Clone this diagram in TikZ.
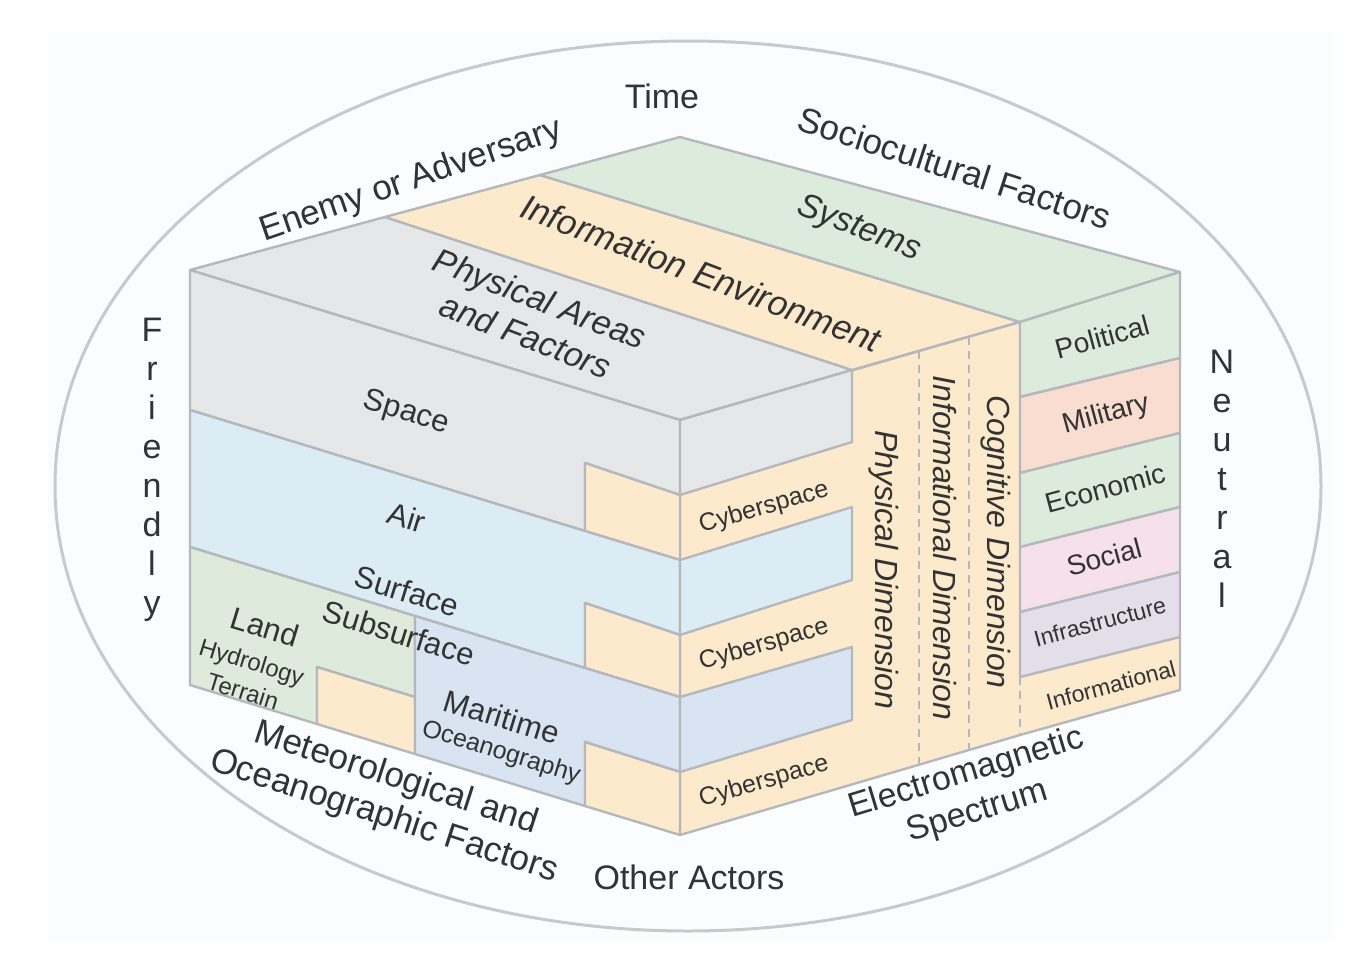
\documentclass[tikz,border=0pt]{standalone}
\usepackage{fontspec}
\setmainfont{Liberation Sans}
\usepackage{xcolor}
\definecolor{edge}{RGB}{180,184,188}
\definecolor{ring}{RGB}{200,201,203}
\definecolor{txt}{RGB}{51,51,51}
\definecolor{grayf}{RGB}{230,231,233}
\definecolor{infof}{RGB}{253,234,205}
\definecolor{sysf}{RGB}{221,235,221}
\definecolor{airf}{RGB}{220,236,245}
\definecolor{seaf}{RGB}{216,228,242}
\definecolor{landf}{RGB}{222,235,220}
\definecolor{milf}{RGB}{249,221,208}
\definecolor{socf}{RGB}{246,225,234}
\definecolor{inff}{RGB}{228,221,234}
\definecolor{bgf}{RGB}{251,252,254}

\begin{document}
\begin{tikzpicture}[x=1pt, y=-1pt,
  face/.style={draw=edge, line width=2.4pt, line join=round},
  lbl/.style={text=txt, inner sep=0pt, align=center, font=\fontsize{#1}{40}\selectfont},
  lbl/.default=31,
  ilbl/.style={lbl, font=\fontsize{#1}{40}\selectfont\itshape},
  ilbl/.default=34]
  \useasboundingbox (0,0) rectangle (1352,974);
  \fill[bgf] (48,32) rectangle (1333,940);
  \draw[ring, line width=3pt] (688,486) ellipse [x radius=633pt, y radius=445pt];

  \draw[face, fill=grayf] (190,270) -- (385,217) -- (852,370) -- (680,420) -- cycle;
  \draw[face, fill=infof] (385,217) -- (540,175) -- (1020,322) -- (852,370) -- cycle;
  \draw[face, fill=sysf] (540,175) -- (680,137) -- (1180,272) -- (1020,322) -- cycle;

  \fill[infof] (680,420) -- (1020,322) -- (1020,735) -- (680,835) -- cycle;
  \fill[infof] (1020,677) -- (1180,637) -- (1180,690) -- (1020,735) -- cycle;
  \draw[face] (1020,322) -- (680,420) -- (680,835) -- (1020,735) -- (1180,690) -- (1180,637);
  \foreach \ta/\tb/\ba/\bb/\col in {322/272/397/358/sysf, 397/358/473/433/milf,
      473/433/547/507/sysf, 547/507/612/572/socf, 612/572/677/637/inff}
    \draw[face, fill=\col] (1020,\ta) -- (1180,\tb) -- (1180,\bb) -- (1020,\ba) -- cycle;
  \draw[face, dash pattern=on 8pt off 6pt] (1020,677) -- (1020,735);
  \draw[face, dash pattern=on 8pt off 6pt] (919,351) -- (919,765);
  \draw[face, dash pattern=on 8pt off 6pt] (969,337) -- (969,750);

  \draw[face, fill=grayf] (190,270) -- (680,420) -- (680,495) -- (585,463) -- (585,531) -- (190,410) -- cycle;
  \draw[face, fill=grayf] (680,420) -- (852,370) -- (852,442) -- (680,495) -- cycle;
  \draw[face, fill=infof] (585,463) -- (680,495) -- (680,560) -- (585,531) -- cycle;

  \draw[face, fill=airf] (190,410) -- (585,531) -- (680,560) -- (680,635) -- (585,603) -- (585,668) -- (190,547) -- cycle;
  \draw[face, fill=airf] (680,560) -- (852,507) -- (852,580) -- (680,635) -- cycle;
  \draw[face, fill=infof] (585,603) -- (680,635) -- (680,697) -- (585,668) -- cycle;

  \draw[face, fill=landf] (190,547) -- (415,616) -- (415,697) -- (317,667) -- (317,724) -- (190,685) -- cycle;
  \draw[face, fill=infof] (317,667) -- (415,697) -- (415,754) -- (317,724) -- cycle;

  \draw[face, fill=seaf] (415,616) -- (585,668) -- (680,697) -- (680,772) -- (585,742) -- (585,806) -- (415,754) -- cycle;
  \draw[face, fill=seaf] (680,697) -- (852,647) -- (852,720) -- (680,772) -- cycle;
  \draw[face, fill=infof] (585,742) -- (680,772) -- (680,835) -- (585,806) -- cycle;

  \node[lbl=34] (time) at (662,96) {Time};
  \node[lbl=35, rotate=19] (enemy) at (411,181) {Enemy or Adversary};
  \node[lbl=35, rotate=-18] (socio) at (955,168) {Sociocultural Factors};
  \node[lbl=34, font=\fontsize{34}{39}\selectfont] (friendly) at (152,470) {F\\r\\i\\e\\n\\d\\l\\y};
  \node[lbl=34, font=\fontsize{34}{39}\selectfont] (neutral) at (1222,479) {N\\e\\u\\t\\r\\a\\l};
  \node[lbl=34] (other) at (689,877) {Other Actors};
  \node[lbl=34, rotate=17] (emspec) at (972,793) {Electromagnetic\\Spectrum};
  \node[lbl=35, rotate=-18] (metoc) at (390,798) {Meteorological and\\Oceanographic Factors};

  \node[ilbl, rotate=-21] (physarea) at (533,317) {Physical Areas\\and Factors};
  \node[ilbl=35, rotate=-21] (infoenv) at (701,273) {Information Environment};
  \node[ilbl, rotate=-21] (systems) at (859,229) {Systems};

  \node[lbl=31, rotate=-17] (space) at (406,413) {Space};
  \node[lbl=31, rotate=-17] (air) at (407,517) {Air};
  \node[lbl=31, rotate=-17] (surface) at (407,591) {Surface};
  \node[lbl=31, rotate=-17] (subsurf) at (399,633) {Subsurface};
  \node[lbl=31, rotate=-17] (land) at (265,627) {Land};
  \node[lbl=24, rotate=-17] (hydro) at (251,664) {Hydrology};
  \node[lbl=24, rotate=-17] (terrain) at (243,691) {Terrain};
  \node[lbl=31, rotate=-17] (maritime) at (502,717) {Maritime};
  \node[lbl=25, rotate=-17] (ocean) at (501,753) {Oceanography};

  \foreach \y [count=\i] in {508,645,782}
    \node[lbl=25, rotate=16] (cyber\i) at (764,\y) {Cyberspace};

  \node[ilbl=32, rotate=-90] (physdim) at (884,570) {Physical Dimension};
  \node[ilbl=32, rotate=-90] (infodim) at (945,548) {Informational Dimension};
  \node[ilbl=32, rotate=-90] (cogdim) at (996,542) {Cognitive Dimension};

  \node[lbl=28, rotate=15] (political) at (1102,337) {Political};
  \node[lbl=28, rotate=15] (military) at (1106,415) {Military};
  \node[lbl=28, rotate=15] (economic) at (1105,488) {Economic};
  \node[lbl=28, rotate=15] (social) at (1104,557) {Social};
  \node[lbl=23, rotate=15] (infra) at (1100,622) {Infrastructure};
  \node[lbl=23, rotate=15] (informational) at (1111,685) {Informational};
\end{tikzpicture}
\end{document}
